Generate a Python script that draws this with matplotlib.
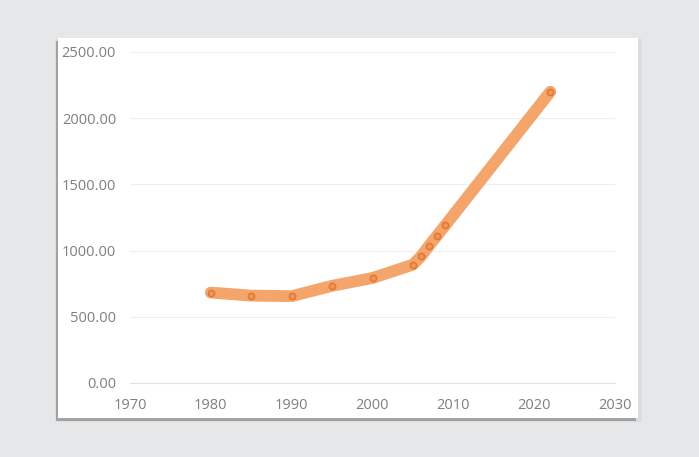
import matplotlib.pyplot as plt
import matplotlib.patches as mpatches

years = [1980, 1985, 1990, 1995, 2000, 2005, 2006, 2007, 2008, 2009, 2022]
values = [683, 660, 656, 734, 793, 894, 957, 1037, 1114, 1191, 2200]
x_ticks = [1970, 1980, 1990, 2000, 2010, 2020, 2030]
y_ticks = [0, 500, 1000, 1500, 2000, 2500]

fig = plt.figure(figsize=(6.99, 4.57), dpi=100)
fig.patch.set_facecolor('#e6e7e9')

W, H = 699, 457
# card shadow (down-left) + white card
soft = mpatches.Rectangle((55 / W, 1 - 422 / H), 587 / W, 383 / H,
                          transform=fig.transFigure, facecolor='#dcdddf',
                          edgecolor='none', zorder=0)
shadow = mpatches.Rectangle((56 / W, 1 - 421 / H), 580 / W, 380 / H,
                            transform=fig.transFigure, facecolor='#a2a2a2',
                            edgecolor='none', zorder=0)
card = mpatches.Rectangle((58 / W, 1 - 418 / H), 580 / W, 380 / H,
                          transform=fig.transFigure, facecolor='white',
                          edgecolor='none', zorder=1)
fig.patches.extend([soft, shadow, card])

ax = fig.add_axes([130 / W, 1 - 383 / H, 485 / W, 331 / H])
ax.set_facecolor('none')
ax.set_zorder(2)

ax.plot(years, values, color='#f3a56c', lw=8.5, solid_capstyle='round',
        solid_joinstyle='round', zorder=3)
ax.plot(years, values, ls='none', marker='o', ms=4.5, mfc='#f0955a',
        mec='#e2772f', mew=1.1, zorder=4)

ax.set_xlim(1970, 2030)
ax.set_ylim(0, 2500)
ax.set_xticks(x_ticks)
ax.set_yticks(y_ticks)
ax.set_yticklabels(['%.2f' % v for v in y_ticks])
ax.grid(axis='y', color='#efefef', lw=0.8)
ax.set_axisbelow(True)

for s in ['top', 'right', 'left']:
    ax.spines[s].set_visible(False)
ax.spines['bottom'].set_color('#e2e2e2')
ax.spines['bottom'].set_linewidth(0.8)

ax.tick_params(length=0, colors='#7f7f7f', labelsize=10.5)
ax.tick_params(axis='y', pad=10)
ax.tick_params(axis='x', pad=11)
for lab in ax.get_xticklabels() + ax.get_yticklabels():
    lab.set_fontfamily('Open Sans')

fig.savefig('out.png', dpi=100, facecolor=fig.get_facecolor())
